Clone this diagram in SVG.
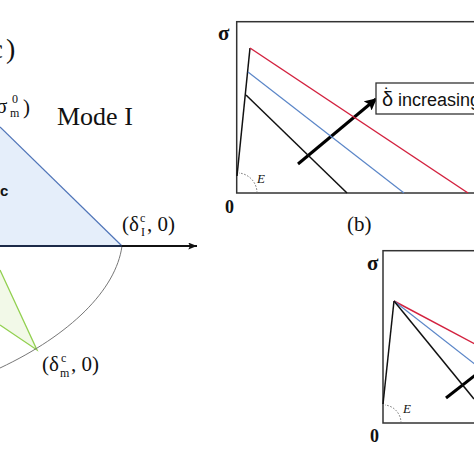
<svg xmlns="http://www.w3.org/2000/svg" width="474" height="474" viewBox="0 0 474 474">
<style>
.serif{font-family:"Liberation Serif","Times New Roman",serif;fill:#111}
.sans{font-family:"Liberation Sans",Arial,sans-serif;fill:#111}
.lab{font-size:21px}
.sm{font-size:12px}
.frame{fill:none;stroke:#333;stroke-width:1.5}
.blk{stroke:#111;stroke-width:1.5;fill:none}
.red{stroke:#d3223f;stroke-width:1.5;fill:none}
.blu{stroke:#5b86c8;stroke-width:1.2;fill:none}
.arc{stroke:#666;stroke-width:0.9;fill:none;stroke-dasharray:1.6,1.6}
.big{stroke:#000;stroke-width:3;fill:none}
</style>
<defs>
<marker id="ah" viewBox="0 0 10 10" refX="9" refY="5" markerWidth="4" markerHeight="4" orient="auto" markerUnits="strokeWidth">
<path d="M0,0 L10,5 L0,10 L2,5 z" fill="#000"/>
</marker>
<marker id="axh" viewBox="0 0 10 8" refX="10" refY="4" markerWidth="10" markerHeight="7" orient="auto" markerUnits="userSpaceOnUse">
<path d="M0,0 L10,4 L0,8 L2,4 z" fill="#111"/>
</marker>
</defs>
<rect width="474" height="474" fill="#fff"/>

<!-- Panel (c) left -->
<g id="panel-left">
<text class="serif" x="3" y="58" font-size="28" text-anchor="end">(c</text>
<text class="serif" x="6" y="58" font-size="28">)</text>
<polygon points="0,127 122,246 0,246" fill="#e5eefa"/>
<line x1="0" y1="127" x2="122" y2="246" stroke="#4f74b8" stroke-width="1.2"/>
<polygon points="0,270 37,350 0,325" fill="#f2f9e8"/>
<polyline points="0,270 37,350 0,325" fill="none" stroke="#92d050" stroke-width="1.3"/>
<path d="M122,246 C116,290 70,335 0,368" fill="none" stroke="#777" stroke-width="1"/>
<text class="serif" x="57" y="125" font-size="26">Mode I</text>
<text class="sans" x="0" y="196" font-size="15" font-weight="bold">c</text>
<g id="label-sm0">
<text class="serif lab" x="-4" y="113">σ</text>
<text class="serif sm" x="12" y="103">0</text>
<text class="serif sm" x="10" y="117">m</text>
<text class="serif lab" x="23" y="114">)</text>
</g>
<g id="label-dI">
<text class="serif lab" x="122" y="231">(δ</text>
<text class="serif sm" x="140" y="222">c</text>
<text class="serif sm" x="141" y="236">I</text>
<text class="serif lab" x="147" y="231">, 0)</text>
</g>
<g id="label-dm">
<text class="serif lab" x="42" y="371">(δ</text>
<text class="serif sm" x="61" y="362">c</text>
<text class="serif sm" x="60" y="377">m</text>
<text class="serif lab" x="71" y="371">, 0)</text>
</g>
</g>

<g id="connectors">
<line x1="0" y1="246" x2="122" y2="246" stroke="#1c2a48" stroke-width="2.2"/>
<line x1="122" y1="246" x2="197" y2="246" stroke="#111" stroke-width="2" marker-end="url(#axh)"/>
<line x1="298" y1="164" x2="376" y2="99" class="big" marker-end="url(#ah)"/>
<line x1="446" y1="398" x2="492" y2="362" class="big"/>
</g>

<!-- Panel (b) -->
<g id="panel-b">
<rect class="frame" x="236.7" y="21.7" width="300" height="171.3"/>
<line class="blk" x1="237" y1="176" x2="250" y2="48"/>
<line class="red" x1="250" y1="48" x2="468" y2="193"/>
<line class="blu" x1="248" y1="72" x2="404" y2="193"/>
<line class="blk" x1="246" y1="95" x2="347" y2="193"/>
<path class="arc" d="M257,193 A20,20 0 0 0 239,173"/>
<text class="serif" x="257" y="183" font-size="13" font-style="italic">E</text>
<text class="serif" x="218" y="40" font-size="21" font-weight="bold">σ</text>
<text class="serif" x="225" y="213" font-size="18" font-weight="bold">0</text>
<text class="serif" x="347" y="231" font-size="21">(b)</text>
</g>

<g id="note-increasing">
<rect x="376" y="83" width="120" height="31" fill="#fff" stroke="#333" stroke-width="1.3"/>
<text class="sans" x="382" y="106" font-size="20">δ</text>
<text class="sans" x="384" y="101" font-size="18">˙</text>
<text class="sans" x="398" y="106" font-size="18">increasing</text>
</g>

<!-- Panel (c) right -->
<g id="panel-c">
<rect class="frame" x="383" y="250.7" width="120" height="172.3"/>
<line class="blk" x1="383" y1="404" x2="394" y2="301"/>
<line class="red" x1="394" y1="301" x2="490" y2="352"/>
<line class="blu" x1="394" y1="301" x2="490" y2="376"/>
<line class="blk" x1="394" y1="301" x2="474" y2="399"/>
<path class="arc" d="M401,423 A18,18 0 0 0 385,405"/>
<text class="serif" x="403" y="413" font-size="13" font-style="italic">E</text>
<text class="serif" x="367" y="270" font-size="21" font-weight="bold">σ</text>
<text class="serif" x="370" y="442" font-size="18" font-weight="bold">0</text>
</g>
</svg>
